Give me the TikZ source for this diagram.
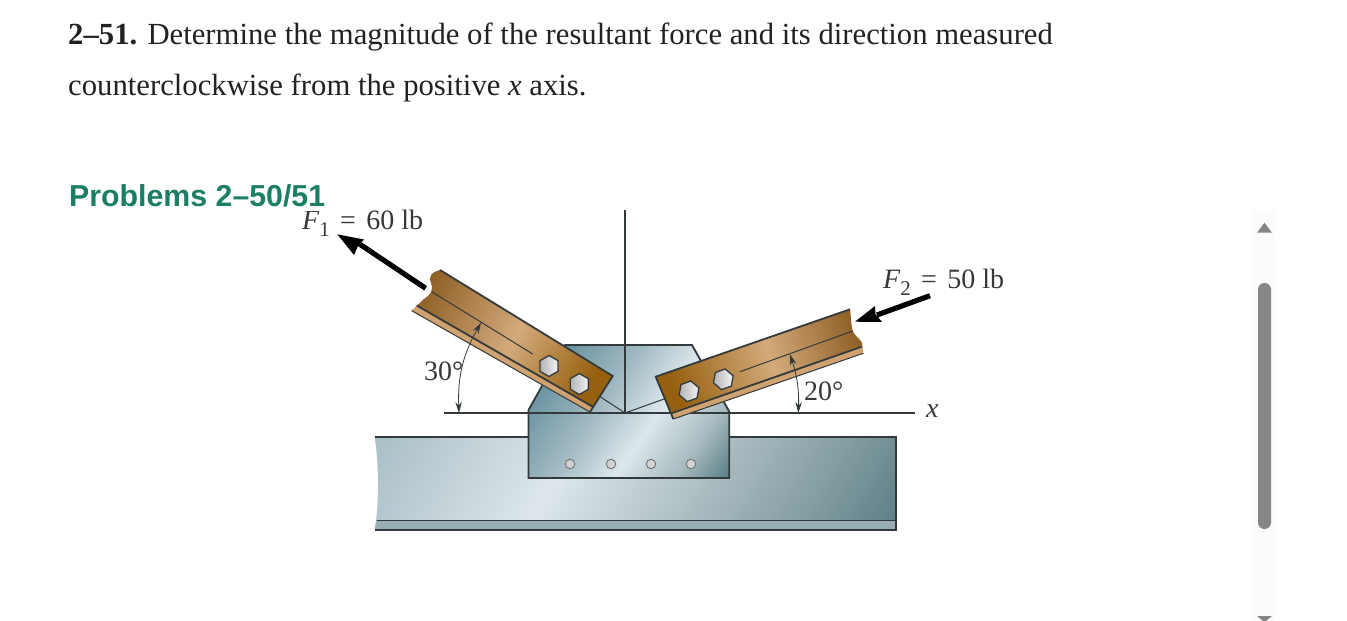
\documentclass[tikz,border=0pt]{standalone}
\usepackage{fontspec}
\setmainfont{Liberation Serif}
\newfontfamily\labelsans{Liberation Sans}
\usetikzlibrary{shapes.geometric,arrows.meta}
\definecolor{ink}{HTML}{222222}
\definecolor{lineC}{HTML}{333A3C}
\definecolor{greenC}{HTML}{1A7F64}
\definecolor{sa}{HTML}{A6BCC4}\definecolor{sb}{HTML}{C5D3D9}\definecolor{sc}{HTML}{DDE7EC}
\definecolor{sd}{HTML}{B0C0C5}\definecolor{se}{HTML}{87A0A5}\definecolor{sf}{HTML}{577B82}
\definecolor{ga}{HTML}{6C95A2}\definecolor{gb}{HTML}{A4BBC3}\definecolor{gc}{HTML}{DCE7EC}
\definecolor{gd}{HTML}{A8BBC0}\definecolor{ge}{HTML}{4D777D}
\definecolor{ba}{HTML}{8A5A20}\definecolor{bb}{HTML}{D3AA7B}\definecolor{bc}{HTML}{96600F}
\definecolor{tan}{HTML}{D0A270}
\pgfdeclarehorizontalshading{steelS}{100bp}{color(0bp)=(sa);color(25bp)=(sa);color(35bp)=(sb);color(43bp)=(sc);color(55bp)=(sd);color(65bp)=(se);color(75bp)=(sf);color(100bp)=(sf)}
\pgfdeclarehorizontalshading{gussetS}{100bp}{color(0bp)=(ga);color(33bp)=(ga);color(45bp)=(gb);color(55bp)=(gc);color(65bp)=(gd);color(75bp)=(ge);color(100bp)=(ge)}
\pgfdeclarehorizontalshading{brownL}{100bp}{color(0bp)=(ba);color(25bp)=(ba);color(50bp)=(bb);color(70bp)=(bc);color(100bp)=(bc)}
\pgfdeclarehorizontalshading{brownR}{100bp}{color(0bp)=(bc);color(30bp)=(bc);color(53bp)=(bb);color(75bp)=(ba);color(100bp)=(ba)}
\tikzset{
  body/.style={font=\fontsize{30.7}{32}\selectfont,text=ink,inner sep=0pt,anchor=base west},
  fig/.style={font=\fontsize{28}{30}\selectfont,text=ink!90,inner sep=0pt,anchor=base west},
  edge/.style={draw=lineC,line width=1.8pt},
  thin edge/.style={draw=lineC,line width=1.3pt},
  fine edge/.style={draw=lineC,line width=1pt},
  dim/.style={draw=lineC,line width=0.8pt,{Stealth[length=11pt,width=6.5pt]}-{Stealth[length=11pt,width=6.5pt]}},
  bolt/.style={regular polygon,regular polygon sides=6,minimum size=21pt,inner sep=0pt,draw=lineC,line width=1.3pt,left color=gray!60,right color=gray!8},
  hole/.style={circle,minimum size=9.5pt,inner sep=0pt,draw=gray!90!black,line width=.9pt,fill=gray!35},
  force/.style={fill=black,draw=none}
}
\newcommand{\lb}[2]{{\itshape F}\raisebox{-.28em}{\fontsize{21}{21}\selectfont #1}\hspace{.37em}=\hspace{.37em}#2 lb}
\begin{document}
\begin{tikzpicture}[x=1pt,y=-1pt]
\useasboundingbox (0,0) rectangle (1347,621);
\fill[white] (0,0) rectangle (1347,621);
% scrollbar
\fill[black!1.5] (1253,211) rectangle (1275,621);
\fill[gray!95] (1257,232.7) -- (1264.5,222.7) -- (1272,232.7) -- cycle;
\fill[gray!95,rounded corners=6.4pt] (1258,283) rectangle (1271,529);
\fill[gray!95] (1257,616) -- (1272,616) -- (1266,621) -- (1263,621) -- cycle;
% main beam
\begin{scope}
\clip (375,437) .. controls (379,470) and (379,500) .. (375,530) -- (896,530) -- (896,437) -- cycle;
\shade[shading=steelS,shading angle=-30] (375,224) rectangle (895,744);
\fill[sa!92!black] (370,520) rectangle (900,530);
\end{scope}
\draw[edge] (375,437) -- (896,437) -- (896,530) -- (375,530);
\draw[edge] (377,520.5) -- (896,520.5);
% gusset
\begin{scope}
\clip (565,345) -- (692,345) -- (729.3,411.7) -- (729.3,478) -- (528.5,478) -- (528.5,410) -- cycle;
\shade[shading=gussetS,shading angle=-35] (504,287) rectangle (754,537);
\end{scope}
\draw[edge] (565,345) -- (692,345) -- (729.3,411.7) -- (729.3,478) -- (528.5,478) -- (528.5,410) -- cycle;
% reference lines
\coordinate (O) at (625,413);
\draw[thin edge] (444,413) -- (O) -- (915.3,413);
\draw[thin edge] (625,210) -- (O);
\draw[fine edge] (590,390) -- (O);
\draw[fine edge] (673.3,395.7) -- (O);
% holes
\foreach \n/\hx in {a/570,b/611,c/651,d/691}
  \node[hole] (hole\n) at (\hx,464) {};
% left beam
\begin{scope}
\clip (440,270) .. controls (431,272) and (428,278) .. (431,283) .. controls (434,291) and (430,295) .. (424,299) -- (411.7,310.7) -- (590,412) -- (612.7,376) -- cycle;
\shade[shading=brownL,shading angle=-30] (400,235) rectangle (620,455);
\fill[tan] (411,304) -- (417,306) -- (593,406.7) -- (590,415) -- (408,312) -- cycle;
\end{scope}
\draw[edge] (440,270) -- (612.7,376) -- (590,412);
\draw[fine edge] (590,412) -- (411.7,310.7);
\draw[edge] (416.7,305.5) -- (592.7,406.7);
\draw[fine edge] (431.7,291.7) -- (532.7,354);
% right beam
\begin{scope}
\clip (655.7,376.7) -- (850,309.3) .. controls (851,316) and (851,325) .. (853,331.7) .. controls (856,337) and (861,340) .. (862,343) -- (863.3,353.3) -- (673.3,419) -- cycle;
\shade[shading=brownR,shading angle=20] (649,255) rectangle (869,475);
\fill[tan] (670,412.8) -- (862,346) -- (866,356) -- (674,422) -- cycle;
\end{scope}
\draw[fine edge] (863.3,353.3) -- (673.3,419);
\draw[edge] (673.3,419) -- (655.7,376.7) -- (850,309.3);
\draw[edge] (671.3,413.3) -- (861.7,346.7);
\draw[fine edge] (740,371.7) -- (852.7,331);
% bolts
\node[bolt,rotate=-30] (boltA) at (549,366) {};
\node[bolt,rotate=-30] (boltB) at (579.3,384) {};
\node[bolt,rotate=20] (boltC) at (689,391.3) {};
\node[bolt,rotate=20] (boltD) at (723.3,379.3) {};
% dimension arcs
\coordinate (d1a) at (459,413);
\coordinate (d1b) at (481,322.7);
\coordinate (d2a) at (798.3,413);
\coordinate (d2b) at (790,354.3);
\draw[dim] (d1a) to[bend left=16] (d1b);
\draw[dim] (d2a) to[bend right=10] (d2b);
% force arrows
\draw[line width=5.2pt] (425.7,288.3) -- (355,241);
\fill[force] (337.3,234.3) -- (364,239.5) -- (358,246) -- (354,255) -- cycle;
\draw[line width=5.2pt] (930,295.7) -- (877,315);
\fill[force] (855,321.7) -- (875,306) -- (875.5,314) -- (882,322) -- cycle;
% labels
\node[body] (title1) at (68,44) {\textbf{2--51.} Determine the magnitude of the resultant force and its direction measured};
\node[body] (title2) at (68,95) {counterclockwise from the positive \textit{x} axis.};
\node[fig] (f1) at (302,229) {\lb{1}{60}};
\node[fig] (f2) at (883,288) {\lb{2}{50}};
\node[fig] (a30) at (424,380) {30°};
\node[fig] (a20) at (804,400) {20°};
\node[fig] (xlab) at (926,417) {\itshape x};
\node[inner sep=0pt,anchor=base west,fill=white,text depth=5pt,text=greenC,font=\labelsans\bfseries\fontsize{30.3}{32}\selectfont] (prob) at (69,206) {Problems 2–50/51};
\end{tikzpicture}
\end{document}
